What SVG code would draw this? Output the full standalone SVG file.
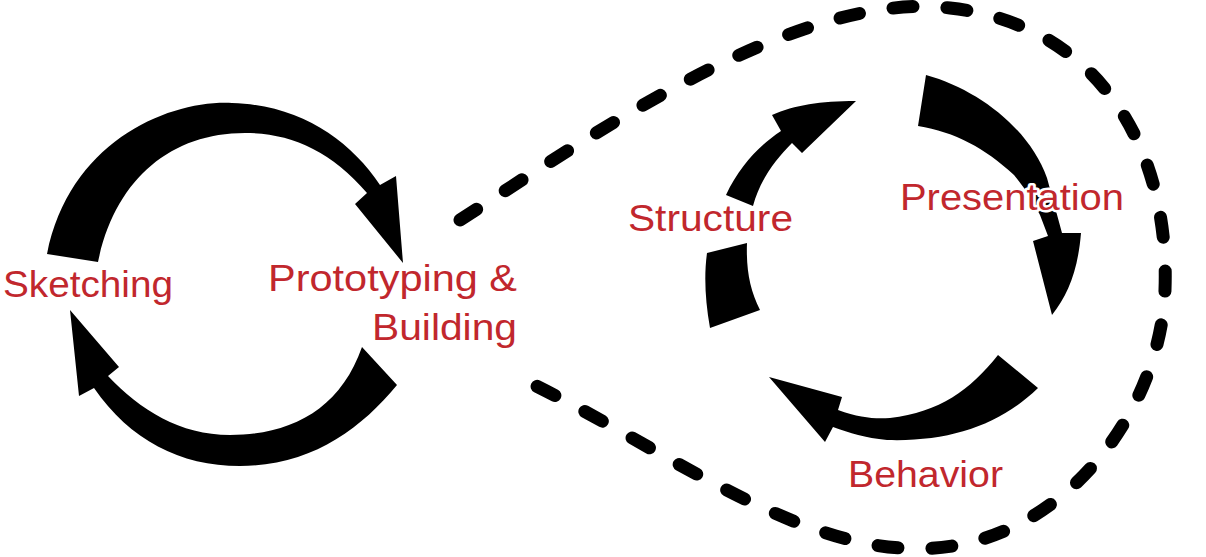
<svg xmlns="http://www.w3.org/2000/svg" width="1206" height="557" viewBox="0 0 1206 557">
<style>
.arr{fill:#000}
.lbl{font-family:"Liberation Sans",Arial,sans-serif;font-size:36px;fill:#c1272d;stroke:#fff;stroke-width:5;paint-order:stroke;stroke-linejoin:round}
.dash{fill:none;stroke:#000;stroke-width:13;stroke-linecap:round;stroke-dasharray:20 34}
</style>
<rect width="1206" height="557" fill="#fff"/>
<g id="connectors">
<path class="dash" d="M460,220 C600,130 800,-10 950,8 C1100,25 1170,150 1165,290 C1160,420 1050,560 900,548 C780,540 650,440 520,378"/>
<path class="arr" d="M47,254 C70,140 170,100 232,103 C300,105 350,140 380,185 L396,176 L403,263 L355,204 L367,193 C330,150 290,133 245,133 C170,133 115,180 98,262 Z"/>
<path class="arr" d="M70,310 L79,396 L94,388 C130,440 180,466 240,466 C310,466 360,430 397,385 L362,347 C340,410 290,435 230,435 C180,435 140,410 108,376 L119,367 Z"/>
<path class="arr" d="M726,195 C740,165 760,145 781,131 L772,115 C795,105 820,101 856,101 L802,153 L792,143 C775,160 760,180 753,206 Z"/>
<path class="arr" d="M707,253 L747,243 C746,270 750,290 760,310 L710,328 C705,300 704,275 707,253 Z"/>
<path class="arr" d="M926,75 C980,90 1030,130 1047,178 L1062,233 L1081,233 C1078,270 1068,295 1052,315 L1033,241 L1048,236 L1040,215 C1030,195 1022,185 1014,175 C985,148 955,132 918,126 Z"/>
<path class="arr" d="M998,355 L1038,388 C1000,425 950,442 887,440 C865,438 850,433 833,427 L825,442 L769,377 L842,397 L838,410 C860,418 875,419 890,418 C940,412 970,390 998,355 Z"/>
</g>
<g id="sketching"><text class="lbl" x="3" y="297" textLength="170" lengthAdjust="spacingAndGlyphs">Sketching</text></g>
<g id="prototyping"><text class="lbl" x="268" y="291" textLength="249" lengthAdjust="spacingAndGlyphs">Prototyping &amp;</text><text class="lbl" x="372" y="340" textLength="145" lengthAdjust="spacingAndGlyphs">Building</text></g>
<g id="structure"><text class="lbl" x="628" y="231" textLength="165" lengthAdjust="spacingAndGlyphs">Structure</text></g>
<g id="presentation"><text class="lbl" x="900" y="210" textLength="224" lengthAdjust="spacingAndGlyphs">Presentation</text></g>
<g id="behavior"><text class="lbl" x="848" y="487" textLength="155" lengthAdjust="spacingAndGlyphs">Behavior</text></g>
</svg>
